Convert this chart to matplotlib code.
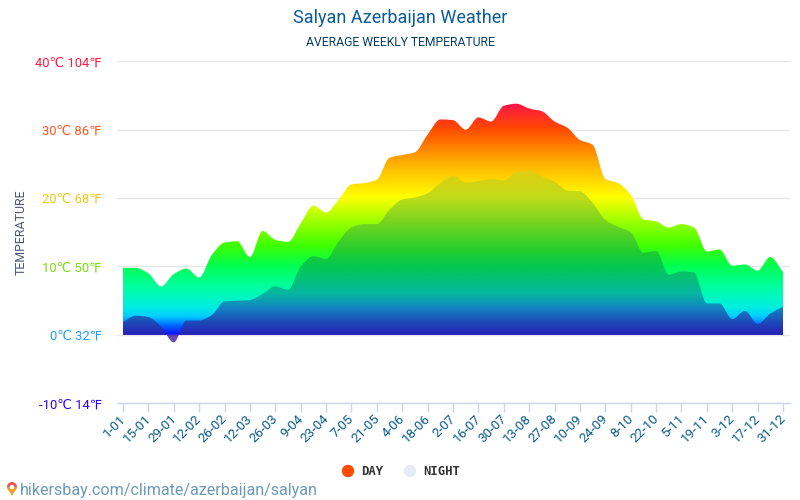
#!/usr/bin/env python3
import numpy as np
import matplotlib
matplotlib.use("Agg")
import matplotlib.pyplot as plt
from matplotlib.colors import LinearSegmentedColormap
from matplotlib.patches import PathPatch, Circle, Wedge
from matplotlib.path import Path
from matplotlib.transforms import ScaledTranslation

plt.rcParams["font.family"] = ["Roboto", "DejaVu Sans"]

# Weekly values
day = [9.8, 9.8, 9.0, 7.1, 8.9, 9.7, 8.4, 11.7, 13.5, 13.7, 11.4, 15.2, 13.9, 13.6,
       16.3, 18.9, 17.9, 19.8, 22.0, 22.2, 22.7, 25.9, 26.3, 26.7, 29.3, 31.5, 31.4,
       30.0, 31.8, 31.2, 33.5, 33.8, 33.1, 32.7, 31.2, 30.3, 28.5, 27.8, 22.8, 22.2,
       20.5, 16.9, 16.6, 15.7, 16.2, 15.7, 12.2, 12.5, 10.1, 10.3, 9.4, 11.4, 9.2]
night = [1.9, 2.8, 2.6, 1.2, -1.1, 2.1, 2.1, 2.9, 4.9, 5.0, 5.1, 6.0, 7.1, 6.6,
         10.0, 11.5, 11.1, 13.7, 15.7, 16.2, 16.2, 18.3, 19.8, 20.1, 20.7, 22.2, 23.3,
         22.3, 22.5, 22.8, 22.6, 23.8, 24.0, 23.2, 22.4, 21.1, 21.0, 19.3, 16.8, 15.8,
         15.0, 12.0, 12.3, 8.8, 9.3, 9.1, 4.6, 4.6, 2.3, 3.5, 1.6, 3.1, 4.1]
tick_labels = ["1-01", "15-01", "29-01", "12-02", "26-02", "12-03", "26-03", "9-04", "23-04",
               "7-05", "21-05", "4-06", "18-06", "2-07", "16-07", "30-07", "13-08", "27-08",
               "10-09", "24-09", "8-10", "22-10", "5-11", "19-11", "3-12", "17-12", "31-12"]
y_ticks = [-10, 0, 10, 20, 30, 40]
y_labels = ["-10℃ 14℉", "0℃ 32℉", "10℃ 50℉", "20℃ 68℉", "30℃ 86℉", "40℃ 104℉"]
y_colors = ["#3300ff", "#1da1f2", "#76e010", "#f5c816", "#ff5722", "#ff1a40"]

# Vertical gradients, (temperature, colour)
day_stops = [(-2, "#1010ff"), (0, "#1010ff"), (1.2, "#0060ff"), (2.6, "#00ccff"), (4, "#00eee0"),
             (7, "#00ffa0"), (10, "#00ff50"), (13, "#40ff00"), (16, "#90ff00"), (20, "#ffff00"),
             (25, "#ffb000"), (30, "#ff4a00"), (34, "#ff1050"), (40, "#ff0060")]
night_stops = [(-2, "#7050b0"), (-0.3, "#6a4ab0"), (0, "#2820b8"), (2, "#1c50b8"), (4, "#1088c0"),
               (6, "#05b8a0"), (10, "#05c850"), (12, "#20cc30"), (16, "#70d420"), (20, "#c0dc18"),
               (24, "#e4cc10"), (40, "#e4cc10")]


def make_cmap(stops, y0=-10, y1=40):
    pts = [((t - y0) / (y1 - y0), c) for t, c in stops]
    pts = [(0, pts[0][1])] + pts + [(1, pts[-1][1])]
    return LinearSegmentedColormap.from_list("g", pts, N=512)


def area_path(xs, ys):
    # monotone cubic through the points, closed down to zero
    xs, ys = np.asarray(xs, float), np.asarray(ys, float)
    d = np.diff(ys)
    m = np.zeros(len(ys))
    for i in range(1, len(ys) - 1):
        if d[i - 1] * d[i] > 0:
            m[i] = 2 * d[i - 1] * d[i] / (d[i - 1] + d[i])
    m[0], m[-1] = d[0], d[-1]
    verts = [(xs[0], 0), (xs[0], ys[0])]
    codes = [Path.MOVETO, Path.LINETO]
    for i in range(len(ys) - 1):
        verts += [(xs[i] + 1 / 3, ys[i] + m[i] / 3),
                  (xs[i + 1] - 1 / 3, ys[i + 1] - m[i + 1] / 3),
                  (xs[i + 1], ys[i + 1])]
        codes += [Path.CURVE4] * 3
    verts += [(xs[-1], 0), (xs[0], 0)]
    codes += [Path.LINETO, Path.CLOSEPOLY]
    return Path(verts, codes)


W, H = 800, 500
fig = plt.figure(figsize=(8, 5), dpi=100)
ax = fig.add_axes([117 / W, 1 - 403.3 / H, 673 / W, 342 / H])

weeks = np.arange(len(day))
step = 660 / 52
ax.set_xlim(-6 / step, 667 / step)
ax.set_ylim(-10, 40)
extent = [ax.get_xlim()[0], ax.get_xlim()[1], -10, 40]
grad = np.linspace(0, 1, 512).reshape(-1, 1)

for vals, stops, z in [(day, day_stops, 2), (night, night_stops, 3)]:
    im = ax.imshow(grad, origin="lower", extent=extent, aspect="auto",
                   cmap=make_cmap(stops), zorder=z, interpolation="bilinear")
    patch = PathPatch(area_path(weeks, vals), transform=ax.transData, fc="none", ec="none")
    ax.add_patch(patch)
    im.set_clip_path(patch)

for s in ["top", "right", "left"]:
    ax.spines[s].set_visible(False)
ax.spines["bottom"].set_color("#ccd6eb")
ax.spines["bottom"].set_linewidth(1)

ax.set_yticks(y_ticks)
ax.set_yticklabels(y_labels, fontsize=9.4)
for lab, c in zip(ax.get_yticklabels(), y_colors):
    lab.set_color(c)
ax.tick_params(axis="y", length=0, pad=11)
ax.grid(axis="y", color="#e6e6e6", lw=1)
ax.set_axisbelow(True)

ax.set_xticks(weeks[::2])
ax.set_xticklabels(tick_labels, rotation=45, ha="right", rotation_mode="anchor",
                   fontsize=9.6, color="#0a5c8f")
ax.tick_params(axis="x", length=6.5, width=1, color="#ccd6eb", pad=0)
shift = ScaledTranslation(-4 / 100, 0, fig.dpi_scale_trans)
for lab in ax.get_xticklabels():
    lab.set_transform(lab.get_transform() + shift)

fig.text(400 / W, 1 - 18 / H, "Salyan Azerbaijan Weather", ha="center", va="center",
         fontsize=13, color="#0a5c99")
fig.text(400 / W, 1 - 42 / H, "AVERAGE WEEKLY TEMPERATURE", ha="center", va="center",
         fontsize=8.7, color="#003d6b")
fig.text(21 / W, 1 - 232 / H, "TEMPERATURE", rotation=90, ha="center", va="center",
         fontsize=8.9, color="#4a5578")

# legend, placed by hand
over = fig.add_axes([0, 0, 1, 1])
over.set_xlim(0, W)
over.set_ylim(H, 0)
over.axis("off")
over.add_patch(Circle((348, 471), 6.2, fc="#ff4a00", ec="none"))
over.add_patch(Circle((410, 471), 6.2, fc="#e6ecf5", ec="none"))
over.text(361, 471.5, "DAY", family="DejaVu Sans Mono", weight="bold", fontsize=8.8,
          color="#333333", va="center")
over.text(423, 471.5, "NIGHT", family="DejaVu Sans Mono", weight="bold", fontsize=8.8,
          color="#333333", va="center")

# pin icon and site address
over.fill([7.5, 16.5, 12], [488, 488, 496], color="#e8a030", lw=0)
over.add_patch(Wedge((12, 487), 5, 180, 360, fc="#e8584a", ec="none"))
over.add_patch(Wedge((12, 487), 5, 0, 180, fc="#f0a030", ec="none"))
over.add_patch(Circle((12, 487), 2.2, fc="white", ec="none"))
over.text(20, 490, "hikersbay.com/climate/azerbaijan/salyan", fontsize=11.65,
          color="#6a9ab8", va="center")

plt.savefig("out.png", dpi=100)
plt.close(fig)
